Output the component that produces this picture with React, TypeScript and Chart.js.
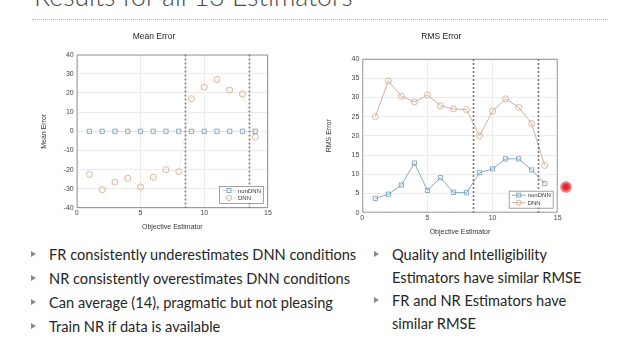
import React, { useEffect, useRef } from "react";
import { Chart, registerables } from "chart.js";

Chart.register(...registerables);

// ---------- data ----------
const estimators = [1, 2, 3, 4, 5, 6, 7, 8, 9, 10, 11, 12, 13, 14];
const meanNonDNN = [0, 0, 0, 0, 0, 0, 0, 0, 0, 0, 0, 0, 0, 0];
const meanDNN = [-22.5, -30.5, -26.5, -24.5, -29, -24, -20, -21, 17, 23, 27, 21.5, 19.5, -3];
const rmsNonDNN = [3.7, 4.8, 7.2, 12.9, 5.8, 9.1, 5.3, 5.2, 10.4, 11.4, 14, 14, 11.1, 7.6];
const rmsDNN = [25, 34.3, 30.3, 28.8, 30.6, 27.8, 27, 26.8, 20, 26.4, 29.6, 27.4, 23.2, 12.3];
const dividers = [8.5, 13.5];
const seriesNames = ["nonDNN", "DNN"];

const leftBullets = [
  "FR consistently underestimates DNN conditions",
  "NR consistently overestimates DNN conditions",
  "Can average (14), pragmatic but not pleasing",
  "Train NR if data is available",
];
const rightBullets = [
  "Quality and Intelligibility Estimators have similar RMSE",
  "FR and NR Estimators have similar RMSE",
];

const FONT = "'Liberation Sans', Arial, sans-serif";
const SLIDE_FONT = "Lato, 'Open Sans', sans-serif";

// ---------- plugins ----------
const overlayPlugin = {
  id: "overlay",
  afterDatasetsDraw(chart: any) {
    const { ctx, chartArea: a, scales } = chart;
    ctx.save();
    // plot box
    ctx.strokeStyle = "#9a9a9a";
    ctx.lineWidth = 1;
    ctx.strokeRect(a.left + 0.5, a.top + 0.5, a.right - a.left - 1, a.bottom - a.top - 1);
    // dividers
    ctx.strokeStyle = "#7a7a7a";
    ctx.lineWidth = 1.6;
    ctx.setLineDash([2, 2]);
    for (const d of dividers) {
      const px = Math.round(scales.x.getPixelForValue(d)) + 0.5;
      ctx.beginPath();
      ctx.moveTo(px, a.top);
      ctx.lineTo(px, a.bottom);
      ctx.stroke();
    }
    ctx.setLineDash([]);
    // legend box inside bottom-right
    const w = 44, rowH = 7.5, h = 17;
    const x0 = a.right - 5 - w;
    const y0 = a.bottom - 5 - h;
    ctx.fillStyle = "#ffffff";
    ctx.fillRect(x0, y0, w, h);
    ctx.strokeStyle = "#8a8a8a";
    ctx.lineWidth = 0.8;
    ctx.strokeRect(x0 + 0.5, y0 + 0.5, w, h);
    chart.data.datasets.forEach((ds: any, i: number) => {
      const cy = y0 + 4.5 + i * rowH;
      ctx.strokeStyle = ds.borderColor;
      ctx.lineWidth = ds.borderWidth;
      ctx.setLineDash(ds.borderDash || []);
      ctx.beginPath();
      ctx.moveTo(x0 + 3, cy);
      ctx.lineTo(x0 + 17, cy);
      ctx.stroke();
      ctx.setLineDash([]);
      ctx.strokeStyle = ds.pointBorderColor;
      ctx.lineWidth = 0.9;
      if (ds.pointStyle === "rect") {
        ctx.strokeRect(x0 + 8, cy - 2, 4, 4);
      } else {
        ctx.beginPath();
        ctx.arc(x0 + 10, cy, 2.6, 0, Math.PI * 2);
        ctx.stroke();
      }
      ctx.fillStyle = "#333";
      ctx.font = `6px ${FONT}`;
      ctx.textBaseline = "middle";
      ctx.textAlign = "left";
      ctx.fillText(ds.label, x0 + 19, cy + 0.5);
    });
    ctx.restore();
  },
};

type Cfg = {
  title: string;
  yTitle: string;
  yMin: number;
  yMax: number;
  yStep: number;
  nonDNN: number[];
  dnn: number[];
  yAxisW: number;
  xAxisH: number;
  padRight: number;
  titleTop: number;
  titleBottom: number;
  lineNon: string;
  lineDnn: string;
  dnnDash: number[];
};

function ErrorChart({ cfg, style }: { cfg: Cfg; style: React.CSSProperties }) {
  const ref = useRef<HTMLCanvasElement>(null);
  useEffect(() => {
    if (!ref.current) return;
    const chart = new Chart(ref.current, {
      type: "line",
      data: {
        datasets: [
          {
            label: seriesNames[0],
            data: estimators.map((x, i) => ({ x, y: cfg.nonDNN[i] })),
            borderColor: cfg.lineNon,
            borderWidth: 1,
            pointStyle: "rect",
            pointRadius: 3,
            pointBorderColor: "#7fa3bd",
            pointBackgroundColor: "rgba(0,0,0,0)",
            pointBorderWidth: 0.9,
          } as any,
          {
            label: seriesNames[1],
            data: estimators.map((x, i) => ({ x, y: cfg.dnn[i] })),
            borderColor: cfg.lineDnn,
            borderWidth: 1,
            borderDash: cfg.dnnDash,
            pointStyle: "circle",
            pointRadius: 3,
            pointBorderColor: "#d8ae93",
            pointBackgroundColor: "rgba(0,0,0,0)",
            pointBorderWidth: 0.9,
          } as any,
        ],
      },
      options: {
        animation: false,
        responsive: false,
        maintainAspectRatio: false,
        layout: { padding: { left: 0, right: cfg.padRight, top: 0, bottom: 0 } },
        plugins: {
          legend: { display: false },
          tooltip: { enabled: false },
          title: {
            display: true,
            text: cfg.title,
            color: "#222",
            font: { family: FONT, size: 8.5, weight: "normal" },
            padding: { top: cfg.titleTop, bottom: cfg.titleBottom },
          },
        },
        scales: {
          x: {
            type: "linear",
            min: 0,
            max: 15,
            ticks: { stepSize: 5, color: "#444", font: { family: FONT, size: 7 }, padding: 1, maxRotation: 0 },
            grid: { color: "#ececec", drawTicks: false },
            border: { display: false },
            title: {
              display: true,
              text: "Objective Estimator",
              color: "#333",
              font: { family: FONT, size: 7 },
              padding: { top: 0, bottom: 0 },
            },
            afterFit: (s: any) => {
              s.height = cfg.xAxisH;
            },
          },
          y: {
            min: cfg.yMin,
            max: cfg.yMax,
            ticks: { stepSize: cfg.yStep, color: "#444", font: { family: FONT, size: 7 }, padding: 3 },
            grid: { color: "#ececec", drawTicks: false },
            border: { display: false },
            title: {
              display: true,
              text: cfg.yTitle,
              color: "#333",
              font: { family: FONT, size: 7 },
              padding: { top: 0, bottom: 2 },
            },
            afterFit: (s: any) => {
              s.width = cfg.yAxisW;
            },
          },
        },
      } as any,
      plugins: [overlayPlugin],
    });
    return () => chart.destroy();
  }, []);
  return <canvas ref={ref} width={style.width as number} height={style.height as number} style={style} />;
}

const meanCfg: Cfg = {
  title: "Mean Error",
  yTitle: "Mean Error",
  yMin: -40,
  yMax: 40,
  yStep: 10,
  nonDNN: meanNonDNN,
  dnn: meanDNN,
  yAxisW: 36.7,
  xAxisH: 23,
  padRight: 12,
  titleTop: 5.2,
  titleBottom: 13.2,
  lineNon: "#d3e3ee",
  lineDnn: "#f1ddd0",
  dnnDash: [1.5, 1.5],
};

const rmsCfg: Cfg = {
  title: "RMS Error",
  yTitle: "RMS Error",
  yMin: 0,
  yMax: 40,
  yStep: 5,
  nonDNN: rmsNonDNN,
  dnn: rmsDNN,
  yAxisW: 37.3,
  xAxisH: 23.3,
  padRight: 12.3,
  titleTop: 5.2,
  titleBottom: 17.5,
  lineNon: "#84adc8",
  lineDnn: "#d3b29c",
  dnnDash: [],
};

function Bullet({ text, left, top, width }: { text: string; left: number; top: number; width: number }) {
  return (
    <div style={{ position: "absolute", left, top, width, fontFamily: SLIDE_FONT, fontSize: 14.6, lineHeight: "23px", color: "#262626" }}>
      <span
        style={{
          position: "absolute",
          left: -18,
          top: 8,
          width: 0,
          height: 0,
          borderLeft: "5px solid #8a8a8a",
          borderTop: "3.5px solid transparent",
          borderBottom: "3.5px solid transparent",
        }}
      />
      {text}
    </div>
  );
}

export default function App() {
  const leftTops = [243, 267, 291, 315];
  const rightTops = [243, 289];
  return (
    <div style={{ position: "absolute", left: 0, top: 0, width: 640, height: 360, background: "#fff", overflow: "hidden" }}>
      <div
        style={{
          position: "absolute",
          left: 34,
          top: -19,
          fontFamily: SLIDE_FONT,
          fontWeight: 300,
          fontSize: 26.6,
          lineHeight: "30px",
          color: "#4a4a4a",
          whiteSpace: "nowrap",
        }}
      >
        Results for all 13 Estimators
      </div>
      <div style={{ position: "absolute", left: 32, top: 19, width: 576, borderTop: "1.5px dotted #b5b5b5" }} />
      <ErrorChart cfg={meanCfg} style={{ position: "absolute", left: 40, top: 26, width: 240, height: 205 }} />
      <ErrorChart cfg={rmsCfg} style={{ position: "absolute", left: 325, top: 26, width: 245, height: 210 }} />
      <div
        style={{
          position: "absolute",
          left: 560,
          top: 181,
          width: 12,
          height: 12,
          borderRadius: 6,
          background: "radial-gradient(circle, #d01818 0%, #e04040 35%, rgba(240,110,110,0.6) 70%, rgba(255,255,255,0) 100%)",
        }}
      />
      {leftBullets.map((t, i) => (
        <Bullet key={t} text={t} left={49} top={leftTops[i]} width={330} />
      ))}
      {rightBullets.map((t, i) => (
        <Bullet key={t} text={t} left={392} top={rightTops[i]} width={200} />
      ))}
    </div>
  );
}
